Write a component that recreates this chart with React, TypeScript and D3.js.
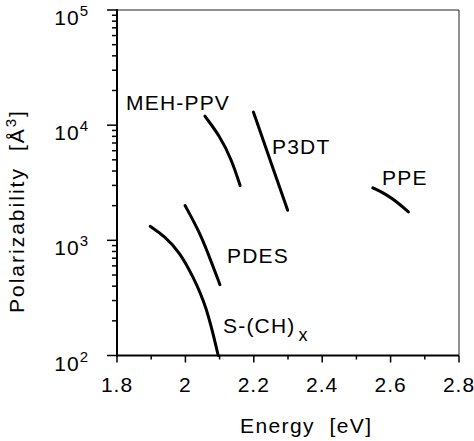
import React from "react";
import * as d3 from "d3";

// energy [eV] / polarizability [A^3]
const schEnergy = [1.897, 1.94, 1.984, 2.022, 2.062, 2.096];
const schPol = [1325, 1083, 782, 486, 267, 100];
const pdesEnergy = [1.999, 2.043, 2.077, 2.101];
const pdesPol = [2005, 1160, 635, 412];
const mehEnergy = [2.057, 2.101, 2.135, 2.16];
const mehPol = [11970, 8020, 5030, 2990];
const p3dtEnergy = [2.199, 2.247, 2.299];
const p3dtPol = [12970, 5035, 1824];
const ppeEnergy = [2.548, 2.589, 2.622, 2.652];
const ppePol = [2857, 2494, 2113, 1766];

const xTicks = [1.8, 2, 2.2, 2.4, 2.6, 2.8];
const xMinor = [1.9, 2.1, 2.3, 2.5, 2.7];
const yExps = [2, 3, 4, 5];

const width = 474;
const height = 441;
const left = 117;
const right = 459;
const top = 10;
const bottom = 355.5;
const font = "'Liberation Sans', Arial, Helvetica, sans-serif";

const x = d3.scaleLinear().domain([1.8, 2.8]).range([left, right]);
const y = d3.scaleLog().domain([100, 100000]).range([bottom, top]);

const line = d3
  .line<[number, number]>()
  .x((d) => x(d[0]))
  .y((d) => y(d[1]))
  .curve(d3.curveBasis);

const series = [
  { name: "sch", e: schEnergy, p: schPol },
  { name: "pdes", e: pdesEnergy, p: pdesPol },
  { name: "meh", e: mehEnergy, p: mehPol },
  { name: "p3dt", e: p3dtEnergy, p: p3dtPol },
  { name: "ppe", e: ppeEnergy, p: ppePol },
];

// minor ticks 2..9 within each decade
const yMinor: number[] = [];
for (let k = 2; k < 5; k++) {
  for (let m = 2; m <= 9; m++) yMinor.push(m * Math.pow(10, k));
}

const App: React.FC = () => {
  return (
    <svg
      width={width}
      height={height}
      style={{ position: "absolute", left: 0, top: 0, background: "#fff" }}
      fontFamily={font}
    >
      {/* frame */}
      <line x1={left} x2={right} y1={top} y2={top} stroke="#222" strokeWidth={1} />
      <line x1={right} x2={right} y1={top} y2={bottom} stroke="#222" strokeWidth={1} />
      <line x1={left} x2={left} y1={top - 1} y2={bottom + 1} stroke="#000" strokeWidth={2} />
      <line x1={left - 1} x2={right} y1={bottom} y2={bottom} stroke="#000" strokeWidth={2} />

      {/* x ticks */}
      {xTicks.map((t) => (
        <g key={"xt" + t}>
          <line x1={x(t)} x2={x(t)} y1={bottom} y2={bottom + 7} stroke="#000" strokeWidth={1.5} />
          <text
            x={x(t)}
            y={392}
            textAnchor="middle"
            fontSize={21}
            letterSpacing={1}
          >
            {d3.format("")(t)}
          </text>
        </g>
      ))}
      {xMinor.map((t) => (
        <line key={"xm" + t} x1={x(t)} x2={x(t)} y1={bottom} y2={bottom + 4} stroke="#000" strokeWidth={1.5} />
      ))}

      {/* y ticks */}
      {yExps.map((k) => {
        const yy = y(Math.pow(10, k));
        return (
          <g key={"yt" + k}>
            <line x1={left - 10} x2={left} y1={yy} y2={yy} stroke="#000" strokeWidth={1.5} />
            <text x={89} y={yy + 15} textAnchor="end" fontSize={21} letterSpacing={1}>
              10
              <tspan dy={-9} fontSize={15}>
                {k}
              </tspan>
            </text>
          </g>
        );
      })}
      {yMinor.map((v) => (
        <line key={"ym" + v} x1={left - 5} x2={left} y1={y(v)} y2={y(v)} stroke="#000" strokeWidth={1.5} />
      ))}

      {/* curves */}
      {series.map((s) => (
        <path
          key={s.name}
          d={line(s.e.map((e, i) => [e, s.p[i]] as [number, number])) || ""}
          fill="none"
          stroke="#000"
          strokeWidth={3}
          strokeLinecap="round"
        />
      ))}

      {/* curve labels */}
      <g fontSize={21} letterSpacing={1.2}>
        <text x={126} y={110}>MEH-PPV</text>
        <text x={272} y={154}>P3DT</text>
        <text x={382} y={185}>PPE</text>
        <text x={227} y={263}>PDES</text>
        <text x={223} y={333}>
          S-(CH)
          <tspan dx={3} dy={8} fontSize={18}>
            x
          </tspan>
        </text>
      </g>

      {/* axis titles */}
      <text x={240} y={433} fontSize={21} letterSpacing={1.4}>
        Energy{"\u00a0\u00a0"}[eV]
      </text>
      <g transform="translate(24,313) rotate(-90)">
        <text x={0} y={0} fontSize={21} letterSpacing={2}>
          Polarizability
          <tspan dx={16}>[Å</tspan>
          <tspan dy={-8} fontSize={15}>
            3
          </tspan>
          <tspan dy={8}>]</tspan>
        </text>
      </g>
    </svg>
  );
};

export default App;
